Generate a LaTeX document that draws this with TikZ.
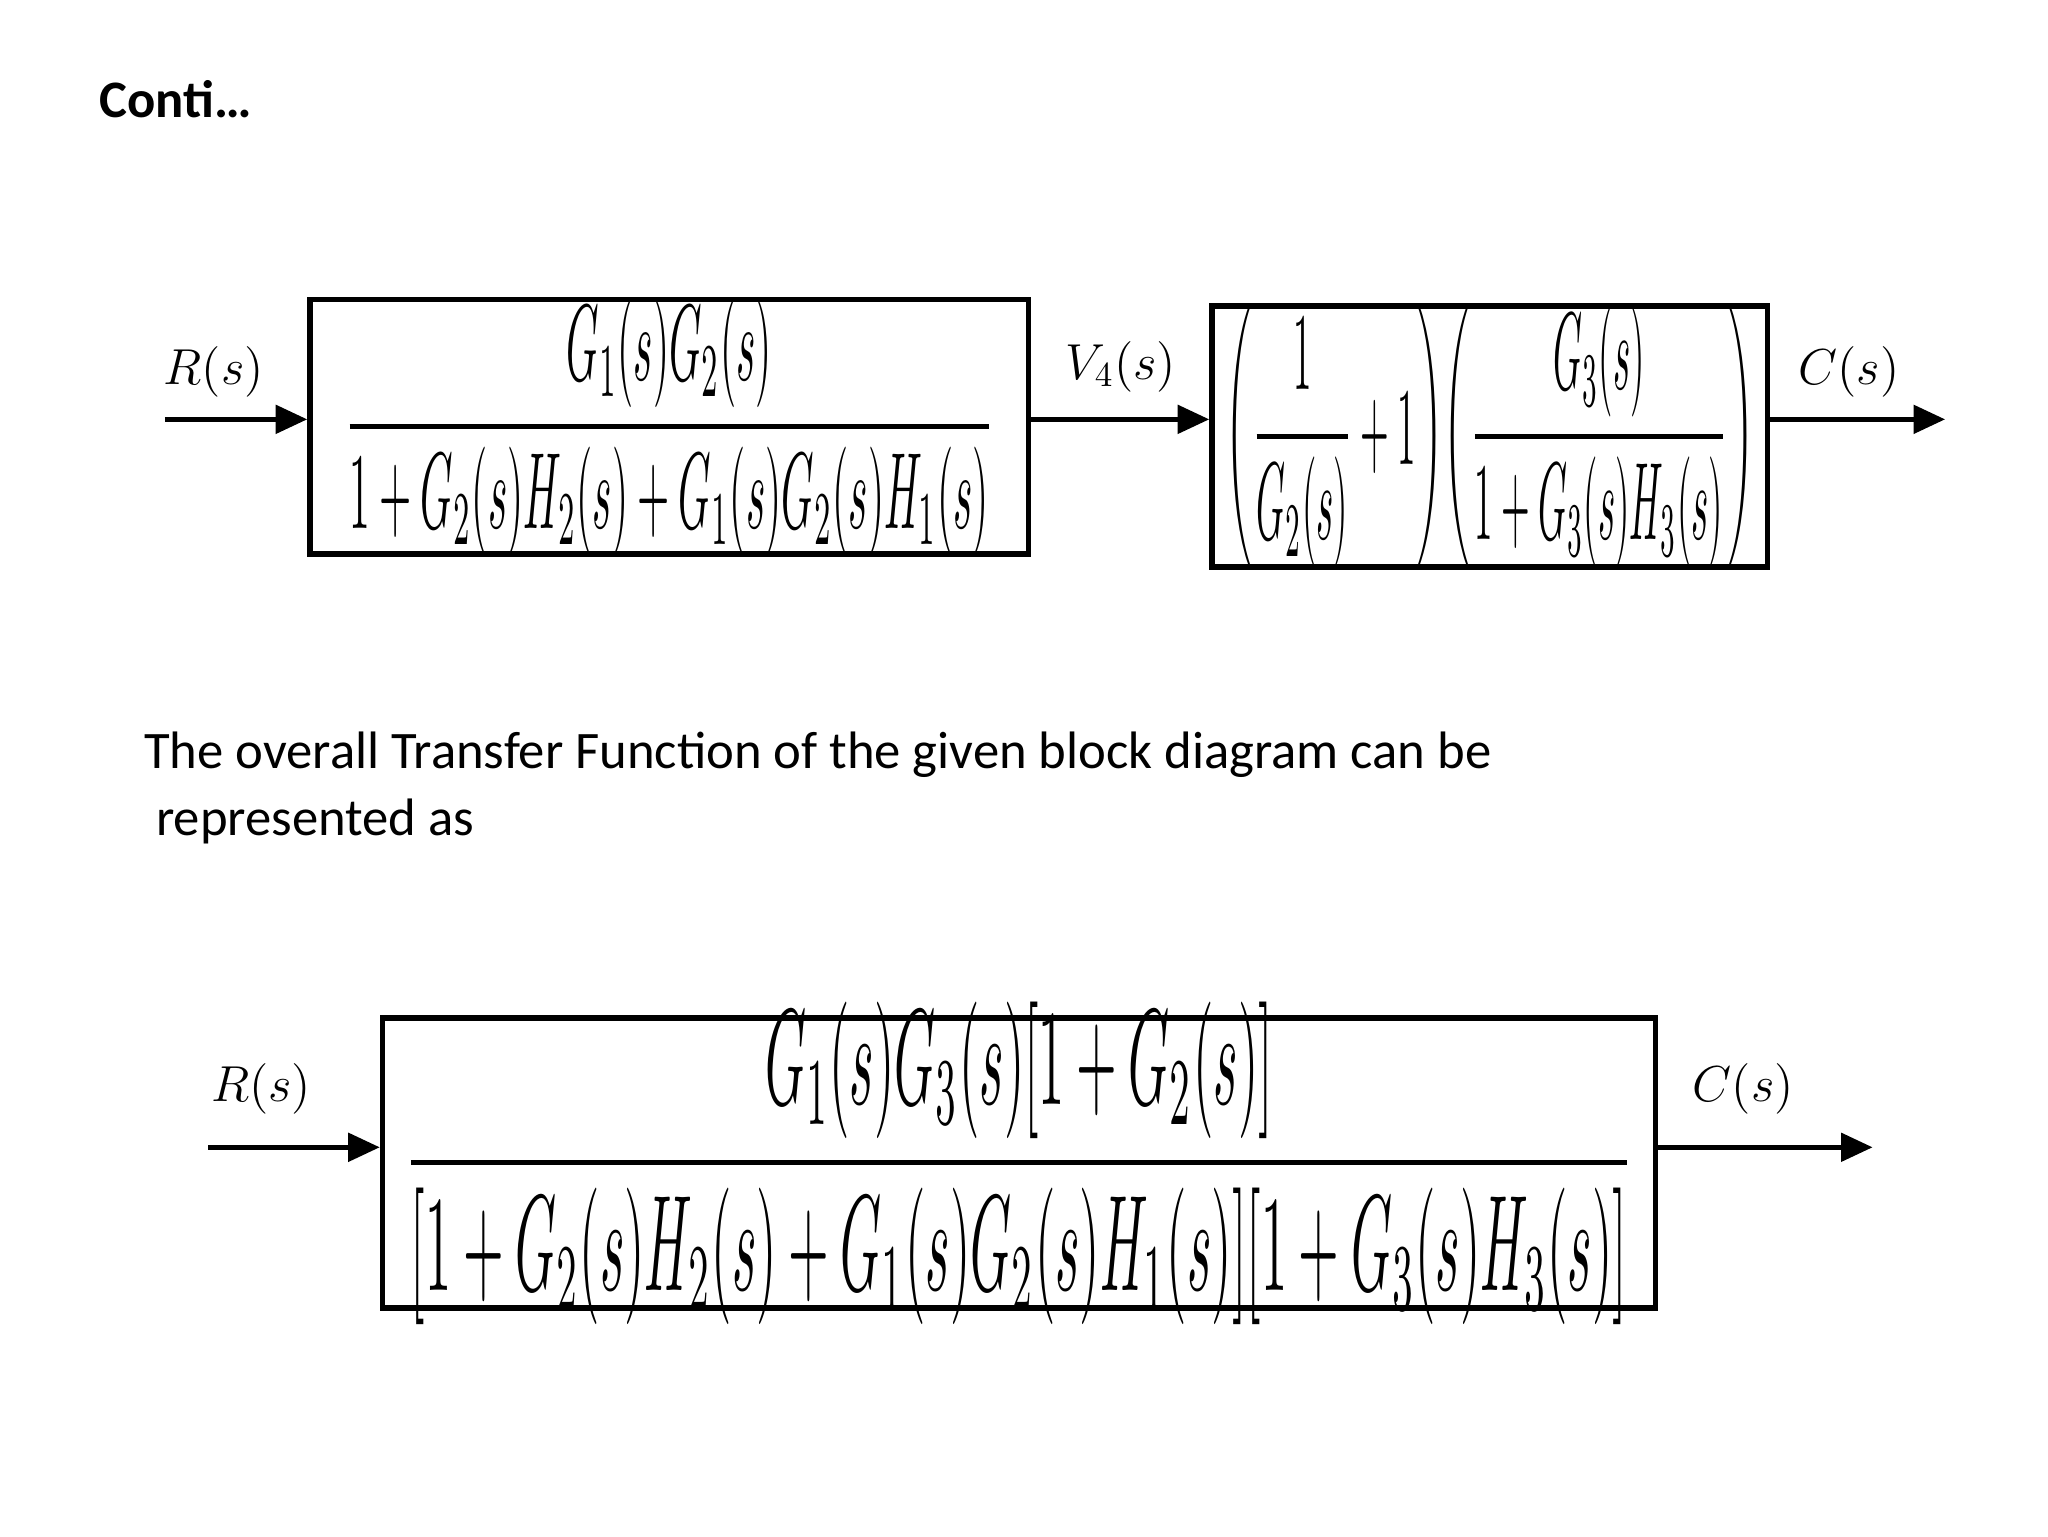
\documentclass[tikz,border=0pt]{standalone}
\usepackage{fontspec}
\setmainfont{Carlito}
\usepackage{amsmath}
\usetikzlibrary{positioning,arrows.meta}
\tikzset{
  blk/.style={draw,line width=1.6pt,inner sep=0pt},
  sig/.style={line width=1.4pt,-{Triangle[length=9pt,width=8pt]}},
  lbl/.style={font=\Large}
}
\begin{document}
\begin{tikzpicture}[x=0.0132cm,y=-0.0132cm]
\useasboundingbox (0,0) rectangle (1553,1165);
% title
\node[anchor=west,font=\fontsize{15}{18}\selectfont\bfseries] (title) at (66,75) {Conti…};
% first row
\node[blk,minimum width=545\pgflinewidth,anchor=north west,minimum width=7.19cm,minimum height=2.55cm] (g12) at (233,225) {};
\node (g12t) at (g12.center) {\resizebox{6.5cm}{1.55cm}{$\dfrac{G_1(s)G_2(s)}{1+G_2(s)H_2(s)+G_1(s)G_2(s)H_1(s)}$}};
\node[blk,anchor=north west,minimum width=5.56cm,minimum height=2.61cm] (g3) at (917,230) {};
\node (g3t) at (g3.center) {\resizebox{5.3cm}{1.6cm}{$\left(\dfrac{1}{G_2(s)}+1\right)\!\left(\dfrac{G_3(s)}{1+G_3(s)H_3(s)}\right)$}};
\coordinate (rin) at (125,318);
\coordinate (cout) at (1475,318);
\draw[sig] (rin) -- (rin -| g12.west);
\draw[sig] (g12.east |- rin) -- (g3.west |- rin);
\draw[sig] (g3.east |- rin) -- (cout);
\node[lbl] (rlab) at (162,282) {$R(s)$};
\node[lbl] (vlab) at (850,278) {$V_4(s)$};
\node[lbl] (clab) at (1402,282) {$C(s)$};
% text
\node[anchor=west,font=\fontsize{15}{18}\selectfont] (txt1) at (100,572) {The overall Transfer Function of the given block diagram can be};
\node[anchor=west,font=\fontsize{15}{18}\selectfont] (txt2) at (109,623) {represented as};
% overall block
\node[blk,anchor=north west,minimum width=12.74cm,minimum height=2.9cm] (tot) at (288,770) {};
\node (tott) at (tot.center) {\resizebox{12.3cm}{1.95cm}{$\dfrac{G_1(s)G_3(s)[1+G_2(s)]}{[1+G_2(s)H_2(s)+G_1(s)G_2(s)H_1(s)][1+G_3(s)H_3(s)]}$}};
\coordinate (rin2) at (158,870);
\coordinate (cout2) at (1420,870);
\draw[sig] (rin2) -- (rin2 -| tot.west);
\draw[sig] (tot.east |- rin2) -- (cout2);
\node[lbl] (rlab2) at (198,826) {$R(s)$};
\node[lbl] (clab2) at (1322,826) {$C(s)$};
\end{tikzpicture}
\end{document}
